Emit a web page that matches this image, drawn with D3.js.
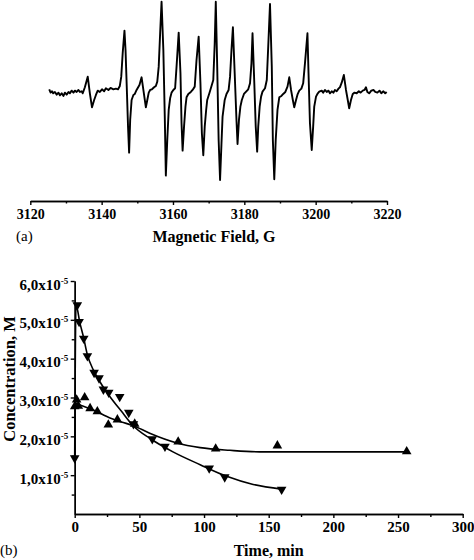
<!DOCTYPE html>
<html lang="en">
<head>
  <meta charset="UTF-8" />
  <title>EPR spectrum and radical concentration vs time</title>
  <script src="https://d3js.org/d3.v7.min.js"></script>
  <style>
    html, body {
      margin: 0;
      padding: 0;
      background: #fff;
    }

    svg {
      display: block;
      font-family: "Liberation Serif", "Times New Roman", serif;
    }

    .axis path,
    .axis line {
      stroke: #000;
      stroke-width: 1.4;
    }

    .axis text {
      font-family: "Liberation Serif", "Times New Roman", serif;
      font-weight: bold;
      fill: #000;
    }

    .axis-title {
      font-family: "Liberation Serif", "Times New Roman", serif;
      font-weight: bold;
      font-size: 16px;
      fill: #000;
    }

    .panel-tag {
      font-family: "Liberation Serif", "Times New Roman", serif;
      font-size: 15px;
      fill: #000;
    }
  </style>
</head>
<body>
  <div id="chart"></div>
  <script>
    // (a) EPR spectrum, field in G, intensity in arbitrary units
    const FIELD = [
      3125.3, 3125.7, 3126.1, 3126.4, 3126.9, 3127.4, 3127.9, 3128.3, 3128.8, 3129.3,
      3129.7, 3130.2, 3130.7, 3131.1, 3131.6, 3132.1, 3132.5, 3133.0, 3133.5, 3133.9,
      3134.4, 3134.7, 3135.3, 3136.1, 3136.7, 3137.3, 3137.9, 3138.4, 3138.9, 3139.5,
      3140.1, 3140.7, 3141.2, 3141.9, 3142.5, 3143.3, 3144.0, 3144.6, 3145.1, 3145.5,
      3145.9, 3146.4, 3146.7, 3147.1, 3147.4, 3147.7, 3148.0, 3148.4, 3148.9, 3149.3,
      3149.8, 3150.6, 3151.2, 3151.7, 3152.1, 3152.4, 3152.8, 3153.2, 3153.6, 3154.1,
      3154.7, 3155.2, 3155.6, 3156.0, 3156.4, 3156.8, 3157.3, 3157.7, 3158.0, 3158.4,
      3158.8, 3159.2, 3159.6, 3160.1, 3160.6, 3161.0, 3161.6, 3162.1, 3162.4, 3162.7,
      3163.1, 3163.5, 3163.8, 3164.3, 3165.0, 3165.5, 3166.1, 3166.6, 3167.2, 3167.7,
      3168.1, 3168.5, 3168.9, 3169.3, 3169.6, 3170.2, 3170.7, 3171.3, 3171.7, 3172.0,
      3172.4, 3172.8, 3173.2, 3173.6, 3173.9, 3174.5, 3175.0, 3175.6, 3176.0, 3176.4,
      3176.8, 3177.3, 3177.8, 3178.1, 3178.5, 3178.9, 3179.3, 3179.9, 3180.5, 3181.1,
      3181.6, 3182.0, 3182.3, 3182.8, 3183.2, 3183.6, 3183.9, 3184.3, 3184.7, 3185.1,
      3185.8, 3186.3, 3186.7, 3187.2, 3187.7, 3188.0, 3188.4, 3188.8, 3189.3, 3189.8,
      3190.4, 3190.9, 3191.5, 3192.1, 3192.6, 3193.1, 3193.6, 3194.0, 3194.5, 3194.9,
      3195.4, 3196.0, 3196.5, 3197.0, 3197.7, 3198.0, 3198.4, 3198.9, 3199.3, 3199.6,
      3200.1, 3200.6, 3201.0, 3201.7, 3202.1, 3202.6, 3203.1, 3203.6, 3204.0, 3204.5,
      3205.0, 3205.4, 3205.9, 3206.4, 3206.8, 3207.3, 3207.9, 3208.5, 3209.0, 3209.4,
      3209.9, 3210.4, 3210.9, 3211.5, 3212.1, 3212.6, 3213.2, 3213.7, 3214.1, 3214.5,
      3215.0, 3215.6, 3216.2, 3216.7, 3217.3, 3217.9, 3218.4, 3219.0, 3219.5, 3219.9
    ];
    const INTENSITY = [
      9, -1, 3, -3, 1, -7, -1, -9, -3, -11,
      -1, -7, 1, -3, 5, -1, 5, 1, 7, 1,
      3, -3, 15, 47, -3, -45, -23, -8, 5, 1,
      9, 3, 12, 7, 13, 9, 11, 9, 19, 47,
      117, 185, 127, -3, -103, -181, -83, -23, -8, -5,
      7, 22, 45, 7, -23, -45, -23, -1, 7, 9,
      15, 19, 32, 77, 177, 272, 127, -73, -250, -143,
      -53, -18, -1, 7, 12, 77, 179, 57, -93, -175,
      -103, -43, -15, -5, 1, 7, 17, 97, 167, 27,
      -123, -189, -103, -53, -23, -3, 15, 37, 147, 272,
      77, -143, -263, -153, -73, -23, -5, 7, 47, 127,
      195, 57, -83, -155, -83, -43, -23, -5, 2, 9,
      27, 87, 177, 27, -103, -178, -103, -43, -13, 2,
      12, 37, 137, 265, 77, -143, -261, -143, -53, -15,
      -11, -5, 1, 17, 45, 7, -23, -45, -23, -7,
      5, 11, 27, 87, 177, 57, -93, -173, -103, -43,
      -13, -3, 2, 5, -1, 7, 1, 5, -3, 3,
      -1, 7, 3, 11, 15, 29, 52, 7, -23, -48,
      -23, -5, -1, -3, 3, -1, 5, 7, 15, 1,
      -3, 5, 7, 1, -1, 5, -3, 3, -3, 1
    ];
    const FIELD_TICKS = [3120, 3140, 3160, 3180, 3200, 3220];
    const FIELD_MINOR = [3130, 3150, 3170, 3190, 3210];

    // (b) concentration in units of 1e-5 M
    const TIME_DOWN = [0, 2, 3.4, 7, 9.8, 15, 18.8, 22.2, 26.3, 34.8, 41.8, 45.4, 60, 69.8, 104, 116, 160];
    const CONC_DOWN = [1.44, 5.38, 4.95, 4.52, 4.07, 3.64, 3.50, 3.21, 3.13, 3.02, 2.61, 2.32, 1.93, 1.74, 1.18, 0.95, 0.63];
    const TIME_UP = [0, 1.5, 2.8, 7.7, 11.9, 17.5, 26, 33, 46.4, 80, 109, 156.7, 256.7];
    const CONC_UP = [2.77, 2.94, 2.78, 3.0, 2.72, 2.64, 2.30, 2.43, 2.32, 1.86, 1.68, 1.76, 1.61];

    // fitted curves
    const FIT_DOWN_T = [0, 1.0, 4.1, 6.7, 9.8, 14.4, 19.6, 27.3, 36, 45, 58, 76, 97, 117.5, 138, 160];
    const FIT_DOWN_C = [1.44, 5.38, 4.91, 4.57, 4.10, 3.71, 3.40, 3.02, 2.65, 2.28, 1.95, 1.60, 1.27, 0.97, 0.76, 0.64];
    const FIT_UP_T = [0, 4, 14.4, 27.3, 36, 45, 58, 79, 97, 120, 143, 200, 257];
    const FIT_UP_C = [2.87, 2.81, 2.68, 2.47, 2.37, 2.28, 2.08, 1.83, 1.71, 1.64, 1.60, 1.60, 1.60];

    const TIME_TICKS = [0, 50, 100, 150, 200, 250, 300];
    const TIME_MINOR = [25, 75, 125, 175, 225, 275];
    const CONC_TICKS = [1, 2, 3, 4, 5, 6];
    const CONC_MINOR = [0.5, 1.5, 2.5, 3.5, 4.5, 5.5];

    const W = 474, H = 560;

    const svg = d3.select("#chart")
      .append("svg")
      .attr("width", W)
      .attr("height", H);

    svg.append("rect")
      .attr("width", W)
      .attr("height", H)
      .attr("fill", "#fff");

    // ---------- panel (a) ----------
    const axisAY = 201;
    const xA = d3.scaleLinear().domain([3120, 3220]).range([30.3, 387]);
    const yA = d3.scaleLinear().domain([-280, 280]).range([185.6, -1]);

    const spectrum = d3.zip(FIELD, INTENSITY);

    svg.append("path")
      .datum(spectrum)
      .attr("fill", "none")
      .attr("stroke", "#000")
      .attr("stroke-width", 1.9)
      .attr("stroke-linejoin", "round")
      .attr("d", d3.line()
        .x(d => xA(d[0]))
        .y(d => yA(d[1])));

    svg.append("g")
      .attr("class", "axis")
      .attr("transform", `translate(0,${axisAY})`)
      .call(d3.axisBottom(xA).tickValues(FIELD_MINOR).tickSize(2.5).tickSizeOuter(0).tickFormat(""));

    svg.append("g")
      .attr("class", "axis")
      .attr("transform", `translate(0,${axisAY})`)
      .call(d3.axisBottom(xA).tickValues(FIELD_TICKS).tickSize(4).tickSizeOuter(0).tickPadding(4).tickFormat(d3.format("d")))
      .call(g => g.selectAll("text").attr("font-size", "14px"));

    svg.append("text")
      .attr("class", "axis-title")
      .attr("x", 214)
      .attr("y", 242)
      .attr("text-anchor", "middle")
      .text("Magnetic Field, G");

    svg.append("text")
      .attr("class", "panel-tag")
      .attr("x", 16)
      .attr("y", 241)
      .text("(a)");

    // ---------- panel (b) ----------
    const axisBY = 514;
    const xB = d3.scaleLinear().domain([0, 300]).range([74.7, 462.7]);
    const yB = d3.scaleLinear().domain([0, 6]).range([axisBY, 281]);

    const line = d3.line()
      .x(d => xB(d[0]))
      .y(d => yB(d[1]))
      .curve(d3.curveMonotoneX);

    svg.append("path")
      .datum(d3.zip(FIT_DOWN_T, FIT_DOWN_C))
      .attr("fill", "none")
      .attr("stroke", "#000")
      .attr("stroke-width", 1.6)
      .attr("d", line);

    svg.append("path")
      .datum(d3.zip(FIT_UP_T, FIT_UP_C))
      .attr("fill", "none")
      .attr("stroke", "#000")
      .attr("stroke-width", 1.6)
      .attr("d", line);

    const tri = d3.symbol().type(d3.symbolTriangle).size(40);

    svg.selectAll(".pt-down")
      .data(d3.zip(TIME_DOWN, CONC_DOWN))
      .enter()
      .append("path")
      .attr("class", "pt-down")
      .attr("d", tri)
      .attr("fill", "#000")
      .attr("transform", d => `translate(${xB(d[0])},${yB(d[1])}) rotate(180)`);

    svg.selectAll(".pt-up")
      .data(d3.zip(TIME_UP, CONC_UP))
      .enter()
      .append("path")
      .attr("class", "pt-up")
      .attr("d", tri)
      .attr("fill", "#000")
      .attr("transform", d => `translate(${xB(d[0])},${yB(d[1])})`);

    // x axis
    svg.append("g")
      .attr("class", "axis")
      .attr("transform", `translate(0,${axisBY})`)
      .call(d3.axisBottom(xB).tickValues(TIME_MINOR).tickSize(3).tickSizeOuter(0).tickFormat(""));

    svg.append("g")
      .attr("class", "axis")
      .attr("transform", `translate(0,${axisBY})`)
      .call(d3.axisBottom(xB).tickValues(TIME_TICKS).tickSize(4).tickSizeOuter(0).tickPadding(3).tickFormat(d3.format("d")))
      .call(g => g.selectAll("text").attr("font-size", "15px"));

    // y axis
    const x0 = xB(0);
    svg.append("g")
      .attr("class", "axis")
      .attr("transform", `translate(${x0},0)`)
      .call(d3.axisLeft(yB).tickValues(CONC_MINOR).tickSize(3).tickSizeOuter(0).tickFormat(""));

    const yAxisG = svg.append("g")
      .attr("class", "axis")
      .attr("transform", `translate(${x0},0)`)
      .call(d3.axisLeft(yB).tickValues(CONC_TICKS).tickSize(4).tickSizeOuter(0).tickFormat(""));

    // y tick labels like 5,0x10^-5
    const fmt = d3.format(".1f");
    yAxisG.selectAll(".tick").each(function (d) {
      const t = d3.select(this).append("text")
        .attr("x", -6.5)
        .attr("y", 8)
        .attr("text-anchor", "end")
        .attr("font-size", "15px");
      t.append("tspan").text(fmt(d).replace(".", ",") + "x10");
      t.append("tspan")
        .attr("font-size", "9px")
        .attr("dy", -6)
        .text("-5");
    });

    svg.append("text")
      .attr("class", "axis-title")
      .attr("transform", "translate(15,379) rotate(-90)")
      .attr("text-anchor", "middle")
      .style("font-size", "16.5px")
      .text("Concentration, M");

    svg.append("text")
      .attr("class", "axis-title")
      .attr("x", xB(150))
      .attr("y", 556)
      .attr("text-anchor", "middle")
      .text("Time, min");

    svg.append("text")
      .attr("class", "panel-tag")
      .attr("x", 0)
      .attr("y", 555)
      .text("(b)");
  </script>
</body>
</html>
